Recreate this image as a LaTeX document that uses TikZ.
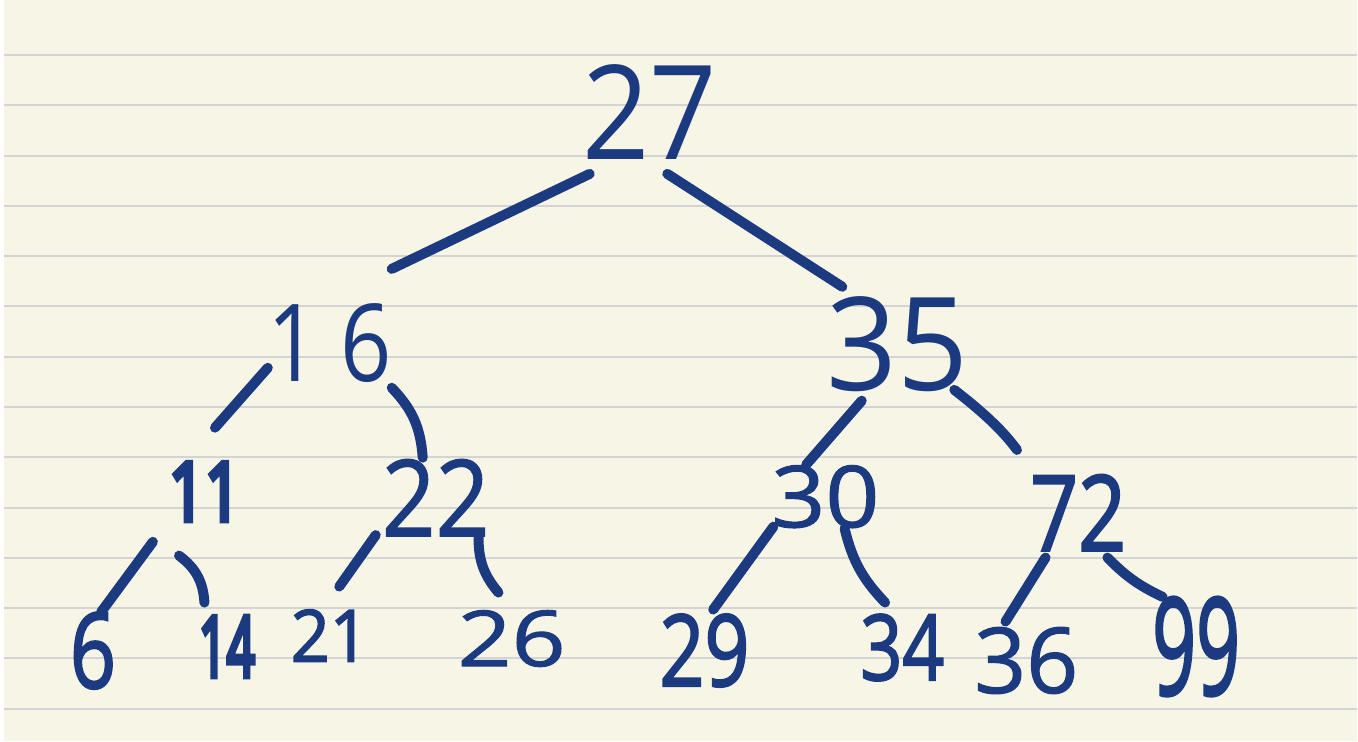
\documentclass[tikz,border=0pt]{standalone}
\usepackage{fontspec}
\setmainfont{Open Sans}
\newfontfamily\penlight{Open Sans}[FakeBold=1.2]
\newfontfamily\penmid{Open Sans}[FakeBold=2.2]
\newfontfamily\penheavy{Open Sans}[FakeBold=7]
\definecolor{ink}{RGB}{27,58,128}
\definecolor{paper}{RGB}{247,245,229}
\definecolor{ruling}{RGB}{212,212,212}
\newcommand{\scrawl}[3]{\makebox[0pt]{\resizebox{#1mm}{#2mm}{#3}}}

\begin{document}
\begin{tikzpicture}[x=0.1mm,y=-0.1mm,
    keybox/.style 2 args={inner sep=0pt, outer sep=0pt, text=ink, minimum width=#1mm, minimum height=#2mm},
    branch/.style={draw=ink, line width=1mm, line cap=round}]
    \fill[white] (0,0) rectangle (1358,742);
    \fill[paper] (4,0) rectangle (1358,742);
    \foreach \k in {0,...,13}
        \draw[ruling, line width=0.2mm] (4,{55+50.33*\k}) -- (1358,{55+50.33*\k});
    \useasboundingbox (0,0) rectangle (1358,742);

    \node[keybox={16}{12.4}] (n27) at (650,112) {\scrawl{13.5}{9.5}{27}};
    \node[keybox={12.4}{14.8}] (n16) at (330,343) {\scrawl{12.5}{7.8}{1\kern0.25em6}};
    \node[keybox={11.4}{11.4}] (n35) at (898,344) {\scrawl{14.2}{9.4}{35}};
    \node[keybox={10.4}{12.8}] (n11) at (205,492) {\scrawl{7.2}{5.8}{\penheavy 11}};
    \node[keybox={12}{8}] (n22) at (436,498) {\scrawl{10.8}{7.7}{\penlight 22}};
    \node[keybox={10.4}{6.4}] (n30) at (826,497) {\scrawl{10.8}{6.2}{\penlight 30}};
    \node[keybox={12}{9}] (n72) at (1079,513) {\scrawl{9.6}{7.6}{\penmid 72}};
    \node[keybox={6}{7.6}] (n6) at (93,651) {\scrawl{4.6}{7.6}{\penmid 6}};
    \node[keybox={7}{8.8}] (n14) at (227,647) {\scrawl{5.6}{6}{\penheavy 14}};
    \node[keybox={9}{9.8}] (n21) at (330,636) {\scrawl{7.8}{5.2}{\penmid 21}};
    \node[keybox={12}{9.2}] (n26) at (512,639) {\scrawl{10.8}{5.6}{\penlight 26}};
    \node[keybox={10}{8.2}] (n29) at (705,651) {\scrawl{9}{7.2}{\penmid 29}};
    \node[keybox={9.6}{9}] (n34) at (903,648) {\scrawl{8.4}{6.6}{\penmid 34}};
    \node[keybox={11.6}{7.8}] (n36) at (1027,661) {\scrawl{10.4}{6.6}{\penlight 36}};
    \node[keybox={10}{9.8}] (n99) at (1197,647) {\scrawl{8.8}{9.8}{\penmid 99}};

    \draw[branch] (n27.-134) -- (n16.50);
    \draw[branch] (n27.-74) -- (n35.134);
    \draw[branch] (n16.-158) -- (n11.81);
    \draw[branch] (n16.-36) to[bend left=20] (n22.108);
    \draw[branch] (n35.-122) -- (n30.121);
    \draw[branch, shorten >=2.2mm] (n35.-39) to[bend left=8] (n72.137);
    \draw[branch] (n11.-136) -- (n6.78);
    \draw[branch] (n11.-112) to[bend left=25] (n14.117);
    \draw[branch] (n22.-148) -- (n21.79);
    \draw[branch] (n22.-43) to[bend right=20] (n26.106);
    \draw[branch] (n30.-150) -- (n29.78);
    \draw[branch] (n30.-59) to[bend right=15] (n34.111);
    \draw[branch] (n72.-126) -- (n36.118);
    \draw[branch] (n72.-57) to[bend right=10] (n99.124);
\end{tikzpicture}
\end{document}
